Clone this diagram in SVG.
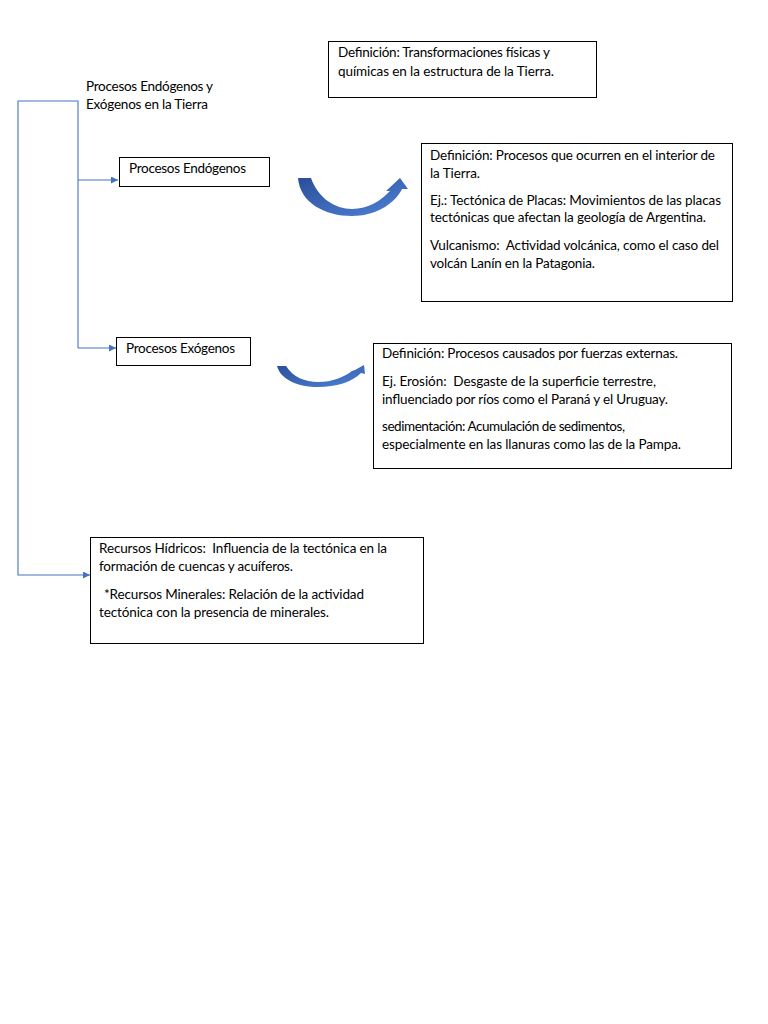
<svg xmlns="http://www.w3.org/2000/svg" width="768" height="1024" viewBox="0 0 768 1024" xml:space="preserve">
<style>
.t{font-family:Lato,"Liberation Sans",Arial,sans-serif;font-size:13.5px;fill:#000;white-space:pre}
.box{fill:#fff;stroke:#000;stroke-width:1}
.con{fill:none;stroke:#4472C4;stroke-width:1.1}
</style>
<defs>
<marker id="ah" viewBox="0 0 10 10" refX="10" refY="5" markerWidth="7" markerHeight="7" markerUnits="userSpaceOnUse" orient="auto">
<path d="M0,0 L10,5 L0,10 Z" fill="#4472C4"/>
</marker>
<linearGradient id="bg" x1="0" y1="0" x2="1" y2="1">
<stop offset="0" stop-color="#2B4F98"/>
<stop offset="1" stop-color="#4E82D6"/>
</linearGradient>
</defs>
<rect width="768" height="1024" fill="#fff"/>

<g id="connectors">
<polyline class="con" points="78,348 78,101 18,101 18,575 90,575" marker-end="url(#ah)"/>
<line class="con" x1="78" y1="180" x2="118" y2="180" marker-end="url(#ah)"/>
<line class="con" x1="78" y1="348" x2="116" y2="348" marker-end="url(#ah)"/>
<path id="curve1" d="M298,178 L311,178 C318,198 335,209 352,209 C368,209 382,200 390,191 L386,191 L400,178 L408,189 L402,189 C394,205 374,216 352,216 C325,216 300,203 298,178 Z" fill="url(#bg)"/>
<path id="curve2" d="M277,366 L286,366 C293,377 305,382 318,382 C333,382 344,377 352,371 L355,370 L364,365 L365,374 L361,373 C352,382 336,387 318,387 C298,387 281,380 277,366 Z" fill="url(#bg)"/>
</g>

<g id="title">
<text class="t" x="86" y="91" textLength="127" lengthAdjust="spacing">Procesos Endógenos y</text>
<text class="t" x="86" y="109" textLength="122" lengthAdjust="spacing">Exógenos en la Tierra</text>
</g>

<g id="def-general">
<rect class="box" x="328.500" y="41.500" width="268" height="56"/>
<text class="t" x="338" y="57" textLength="212" lengthAdjust="spacing">Definición: Transformaciones físicas y</text>
<text class="t" x="338" y="76" textLength="216" lengthAdjust="spacing">químicas en la estructura de la Tierra.</text>
</g>

<g id="endogenos">
<rect class="box" x="119.500" y="157.500" width="150" height="29"/>
<text class="t" x="129" y="173" textLength="117" lengthAdjust="spacing">Procesos Endógenos</text>
</g>

<g id="exogenos">
<rect class="box" x="116.500" y="337.500" width="134" height="28"/>
<text class="t" x="126" y="353" textLength="109" lengthAdjust="spacing">Procesos Exógenos</text>
</g>

<g id="def-endogenos">
<rect class="box" x="421.500" y="143.500" width="311" height="158"/>
<text class="t" x="430" y="160" textLength="285" lengthAdjust="spacing">Definición: Procesos que ocurren en el interior de</text>
<text class="t" x="430" y="178" textLength="50" lengthAdjust="spacing">la Tierra.</text>
<text class="t" x="430" y="205" textLength="291" lengthAdjust="spacing">Ej.: Tectónica de Placas: Movimientos de las placas</text>
<text class="t" x="430" y="222" textLength="276" lengthAdjust="spacing">tectónicas que afectan la geología de Argentina.</text>
<text class="t" x="430" y="250" textLength="289" lengthAdjust="spacing">Vulcanismo:  Actividad volcánica, como el caso del</text>
<text class="t" x="430" y="268" textLength="165" lengthAdjust="spacing">volcán Lanín en la Patagonia.</text>
</g>

<g id="def-exogenos">
<rect class="box" x="373.500" y="343.500" width="358" height="125"/>
<text class="t" x="382" y="358" textLength="296" lengthAdjust="spacing">Definición: Procesos causados por fuerzas externas.</text>
<text class="t" x="382" y="386" textLength="274" lengthAdjust="spacing">Ej. Erosión:  Desgaste de la superficie terrestre,</text>
<text class="t" x="382" y="404" textLength="286" lengthAdjust="spacing">influenciado por ríos como el Paraná y el Uruguay.</text>
<text class="t" x="382" y="431" textLength="243" lengthAdjust="spacing">sedimentación: Acumulación de sedimentos,</text>
<text class="t" x="382" y="449" textLength="299" lengthAdjust="spacing">especialmente en las llanuras como las de la Pampa.</text>
</g>

<g id="recursos">
<rect class="box" x="90.500" y="537.500" width="333" height="106"/>
<text class="t" x="99" y="553" textLength="288" lengthAdjust="spacing">Recursos Hídricos:  Influencia de la tectónica en la</text>
<text class="t" x="99" y="571" textLength="194" lengthAdjust="spacing">formación de cuencas y acuíferos.</text>
<text class="t" x="104" y="599" textLength="260" lengthAdjust="spacing">*Recursos Minerales: Relación de la actividad</text>
<text class="t" x="99" y="617" textLength="230" lengthAdjust="spacing">tectónica con la presencia de minerales.</text>
</g>
</svg>
